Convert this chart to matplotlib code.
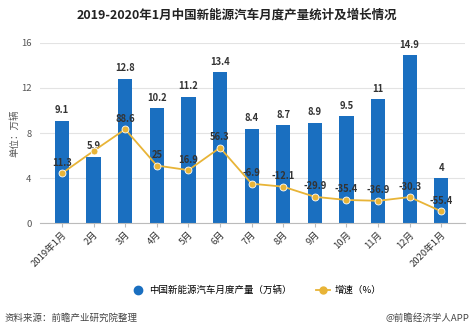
import numpy as np
import matplotlib.pyplot as plt
from matplotlib.lines import Line2D

plt.rcParams['font.family'] = ['Noto Sans CJK SC', 'DejaVu Sans']

months = ['2019年1月', '2月', '3月', '4月', '5月', '6月', '7月', '8月', '9月',
          '10月', '11月', '12月', '2020年1月']
output = [9.1, 5.9, 12.8, 10.2, 11.2, 13.4, 8.4, 8.7, 8.9, 9.5, 11, 14.9, 4]
growth = [11.3, 50.5, 88.6, 25, 16.9, 56.3, -6.9, -12.1, -29.9, -35.4, -36.9, -30.3, -55.4]
growth_labels = ['11.3', '', '88.6', '25', '16.9', '56.3', '-6.9', '-12.1', '-29.9',
                 '-35.4', '-36.9', '-30.3', '-55.4']

blue = '#1a6fc0'
gold = '#e8b437'
txt = '#333333'

fig = plt.figure(figsize=(4.74, 3.33), dpi=100)
ax = fig.add_axes([0.084, 0.330, 0.897, 0.541])
x = np.arange(len(months))

ax.bar(x, output, width=0.45, color=blue, zorder=2)
for xi, v in zip(x, output):
    ax.annotate(f'{v:g}', (xi, v), xytext=(0, 4), textcoords='offset points',
                ha='center', va='bottom', fontsize=6.8, fontweight='bold', color=txt)

ax.set_ylim(0, 16)
ax.set_yticks([0, 4, 8, 12, 16])
ax.set_xlim(-0.7, 12.75)
ax.set_xticks(x)
ax.set_xticklabels(months, rotation=45, ha='right', rotation_mode='anchor', fontsize=6.8, color=txt)
ax.tick_params(axis='y', length=0, labelsize=6.8, labelcolor='#555555', pad=6)
ax.tick_params(axis='x', length=3, color='#bbbbbb', pad=2)
ax.grid(axis='y', color='#e3e3e3', linewidth=0.8, zorder=0)
for s in ['left', 'right', 'top']:
    ax.spines[s].set_visible(False)
ax.spines['bottom'].set_color('#bbbbbb')
ax.set_ylabel('单位：万辆', fontsize=6.8, color='#555555', labelpad=1)

ax2 = ax.twinx()
ax2.set_ylim(-76, 240)
ax2.axis('off')
ax2.plot(x, growth, color=gold, linewidth=1.3, marker='o', markersize=5,
         markerfacecolor=gold, markeredgecolor='white', markeredgewidth=0.6, zorder=3)
for xi, v, lab in zip(x, growth, growth_labels):
    if lab:
        ax2.annotate(lab, (xi, v), xytext=(0, 4), textcoords='offset points',
                     ha='center', va='bottom', fontsize=6.8, fontweight='bold', color=txt)

fig.text(0.5, 0.955, '2019-2020年1月中国新能源汽车月度产量统计及增长情况',
         ha='center', va='center', fontsize=9, fontweight='bold', color='#222222')

handles = [Line2D([], [], marker='o', linestyle='none', markersize=6, color=blue),
           Line2D([], [], marker='o', color=gold, markersize=5, linewidth=1.3)]
fig.legend(handles, ['中国新能源汽车月度产量（万辆）', '增速（%）'], loc='center',
           bbox_to_anchor=(0.54, 0.128), ncol=2, frameon=False, fontsize=6.8,
           handlelength=1.5, columnspacing=2.5, handletextpad=0.5)

fig.text(0.01, 0.045, '资料来源：前瞻产业研究院整理', fontsize=6.8, color='#444444', va='center')
fig.text(0.99, 0.045, '@前瞻经济学人APP', fontsize=6.8, color='#444444', va='center', ha='right')

fig.savefig('out.png', dpi=100)
